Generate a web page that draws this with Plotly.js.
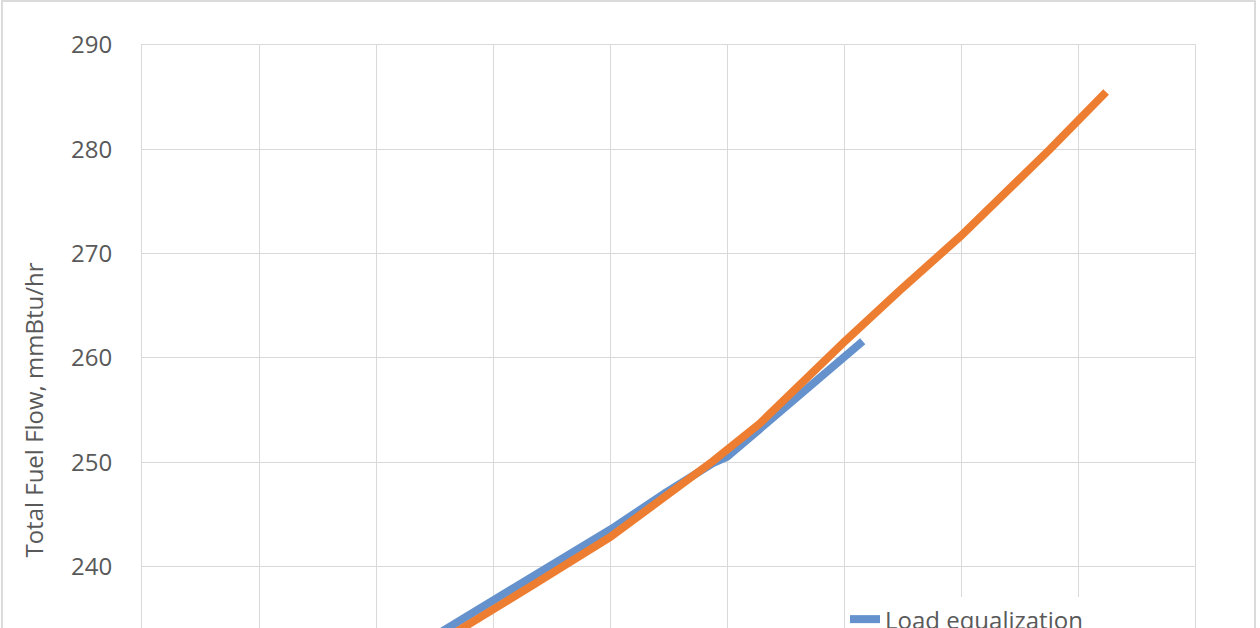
<!DOCTYPE html>
<html>
<head>
<meta charset="utf-8">
<script src="https://cdn.plot.ly/plotly-3.0.1.min.js"></script>
<style>
html, body { margin: 0; padding: 0; overflow: hidden; background: #ffffff; }
#chart { width: 1260px; height: 860px; }
</style>
</head>
<body>
<div id="chart"></div>
<script>
// Load (x) values and total fuel flow (mmBtu/hr)
const loadEqX = [180, 210, 232, 249, 267, 283, 302, 324, 344, 350, 381, 408];
const loadEqY = [227.2, 231.3, 234.2, 236.6, 239.0, 241.2, 243.8, 247.1, 249.9, 250.5, 256.5, 261.6];

const baseX = [180, 210, 239, 267, 300, 321, 344, 364, 381, 400, 424, 450, 488, 512];
const baseY = [226.3, 230.4, 234.2, 238.2, 242.8, 246.3, 250.1, 253.7, 257.5, 261.5, 266.5, 271.7, 280.0, 285.5];

const seriesNames = ["Load equalization", "Base case"];
const yTitle = "Total Fuel Flow, mmBtu/hr";

const traces = [
  {
    x: loadEqX, y: loadEqY, name: seriesNames[0], type: "scatter", mode: "lines",
    line: { color: "#6592CC", width: 8 }
  },
  {
    x: baseX, y: baseY, name: seriesNames[1], type: "scatter", mode: "lines",
    line: { color: "#ED7D31", width: 8 }
  }
];

const fontFam = "'Open Sans', sans-serif";
const layout = {
  width: 1260, height: 860,
  margin: { l: 142, r: 65, t: 45, b: 85 },
  paper_bgcolor: "#ffffff", plot_bgcolor: "#ffffff",
  font: { family: fontFam, size: 24, color: "#595959" },
  showlegend: true,
  legend: {
    x: 0.6676, y: 0.2438, xanchor: "left", yanchor: "top",
    bgcolor: "#ffffff", borderwidth: 0,
    font: { family: fontFam, size: 24, color: "#595959" }
  },
  xaxis: {
    range: [100, 550], dtick: 50, tick0: 100,
    showgrid: true, gridcolor: "#d9d9d9", gridwidth: 1,
    showline: true, linecolor: "#d9d9d9", linewidth: 1, mirror: true,
    zeroline: false, ticks: "", showticklabels: false
  },
  yaxis: {
    range: [220, 290], dtick: 10, tick0: 220,
    showgrid: true, gridcolor: "#d9d9d9", gridwidth: 1,
    showline: true, linecolor: "#d9d9d9", linewidth: 1, mirror: true,
    zeroline: false, ticks: "outside", ticklen: 24, tickcolor: "rgba(0,0,0,0)",
    tickfont: { family: fontFam, size: 24, color: "#595959" },
    title: { text: yTitle, font: { family: fontFam, size: 24, color: "#595959" }, standoff: 20 }
  },
  shapes: [
    {
      type: "rect", xref: "paper", yref: "paper",
      x0: -0.1330, x1: 1.0570, y0: -0.10, y1: 1.0603,
      line: { color: "#d0d0d0", width: 1.5 }, fillcolor: "rgba(0,0,0,0)", layer: "below"
    }
  ]
};

Plotly.newPlot("chart", traces, layout, { displayModeBar: false, staticPlot: true });
</script>
</body>
</html>
